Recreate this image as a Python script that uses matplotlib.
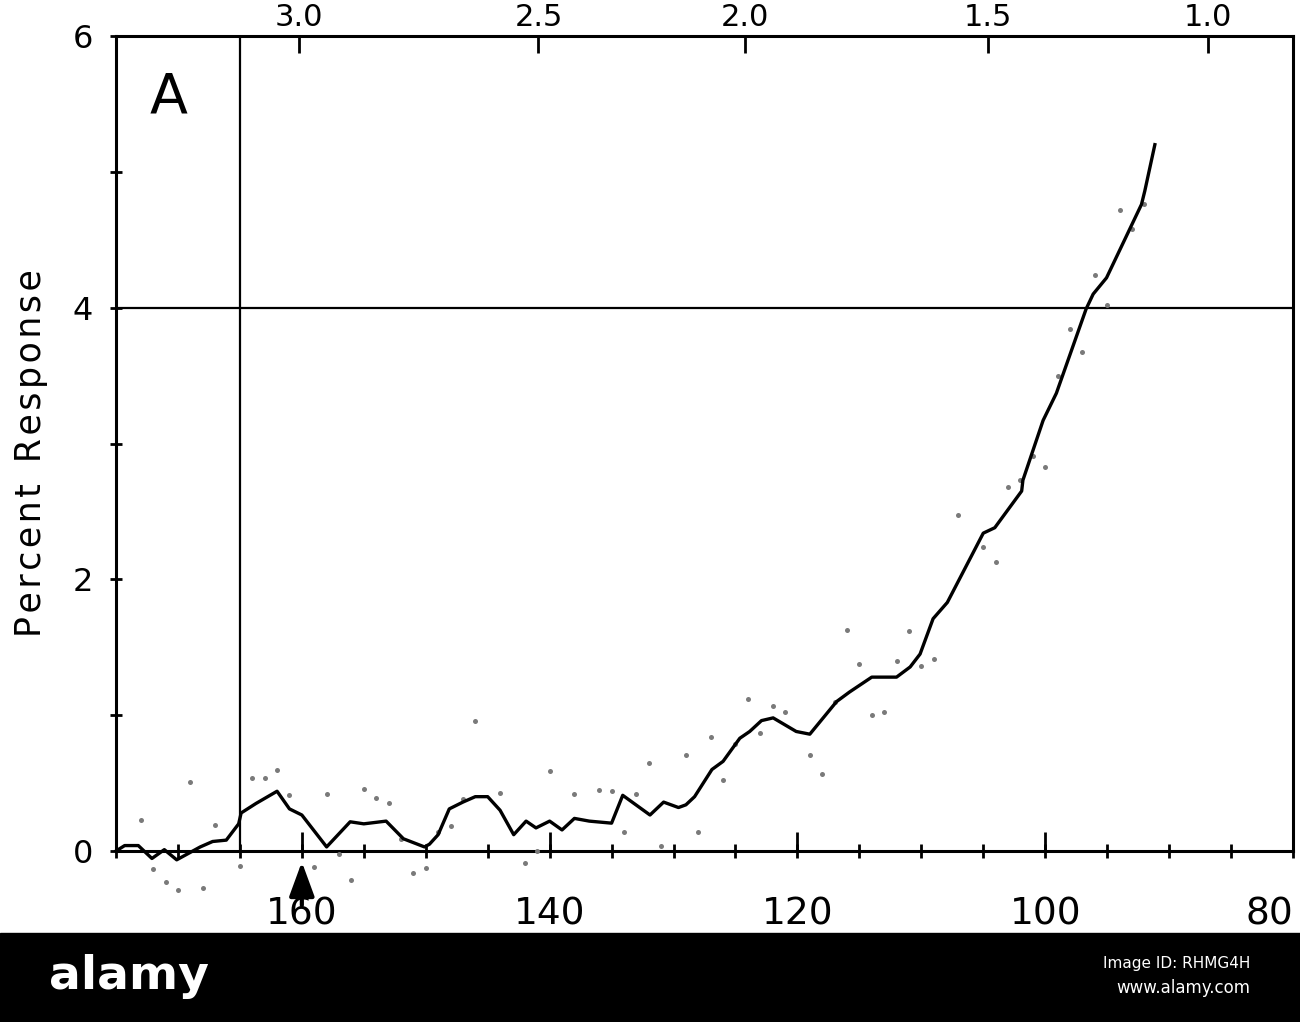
import matplotlib
matplotlib.use("Agg")
import matplotlib.pyplot as plt
from matplotlib.patches import Rectangle

# smoothed response curve (bottom-axis units vs percent response)
line_x = [175.0, 174.3, 173.2, 172.1, 171.1, 170.1, 168.2, 167.2, 166.1, 165.1,
          164.9, 163.7, 162.0, 161.0, 160.0, 158.0, 156.1, 155.0, 153.2, 151.8,
          150.1, 149.7, 149.0, 148.1, 147.0, 146.0, 145.0, 144.0, 142.9, 141.9,
          141.1, 140.0, 139.0, 138.0, 136.8, 135.0, 134.1, 131.9, 130.8, 129.6,
          129.0, 128.3, 126.9, 126.0, 125.05, 124.65, 123.85, 122.9, 121.96, 120.1,
          119.0, 116.84, 115.8, 114.0, 112.0, 110.9, 110.1, 109.05, 107.9, 105.0,
          104.07, 101.9, 101.8, 100.17, 99.1, 96.7, 96.13, 95.05, 93.17, 92.23,
          91.96, 91.15]
line_y = [0.00, 0.04, 0.04, -0.055, 0.01, -0.065, 0.03, 0.07, 0.08, 0.20,
          0.28, 0.35, 0.44, 0.31, 0.265, 0.03, 0.215, 0.20, 0.22, 0.09,
          0.03, 0.05, 0.12, 0.31, 0.36, 0.40, 0.40, 0.30, 0.12, 0.22,
          0.17, 0.22, 0.155, 0.24, 0.22, 0.205, 0.41, 0.265, 0.36, 0.32,
          0.34, 0.40, 0.60, 0.66, 0.78, 0.83, 0.88, 0.96, 0.98, 0.88,
          0.86, 1.10, 1.17, 1.28, 1.28, 1.355, 1.45, 1.71, 1.83, 2.34,
          2.38, 2.65, 2.73, 3.17, 3.37, 3.99, 4.10, 4.22, 4.58, 4.76,
          4.86, 5.20]

# raw measurements (dots)
dot_x = [173, 172, 171, 170, 169, 168, 167, 165, 164, 163, 162, 161, 159, 158,
         157, 156, 155, 154, 153, 152, 151, 150, 149, 148, 147, 146, 144, 142,
         141, 140, 138, 136, 135, 134, 133, 132, 131, 129, 128, 127, 126, 125,
         124, 123, 122, 121, 119, 118, 117, 116, 115, 114, 113, 112, 111, 110,
         109, 107, 105, 104, 103, 102, 101, 100, 99, 98, 97, 96, 95, 94, 93, 92]
dot_y = [0.23, -0.13, -0.23, -0.29, 0.51, -0.27, 0.19, -0.11, 0.54, 0.54, 0.60, 0.41, -0.115, 0.42,
         -0.02, -0.21, 0.46, 0.39, 0.35, 0.09, -0.165, -0.125, 0.14, 0.185, 0.38, 0.96, 0.43, -0.09,
         0.00, 0.59, 0.42, 0.45, 0.44, 0.14, 0.42, 0.65, 0.04, 0.71, 0.14, 0.84, 0.52, 0.79,
         1.12, 0.87, 1.07, 1.02, 0.71, 0.57, 1.10, 1.63, 1.38, 1.00, 1.02, 1.40, 1.62, 1.36,
         1.41, 2.47, 2.24, 2.13, 2.68, 2.73, 2.91, 2.83, 3.50, 3.84, 3.67, 4.24, 4.02, 4.72, 4.58, 4.76]

bottom_ticks = [160, 140, 120, 100, 80]
y_ticks = [0, 2, 4, 6]
top_labels = ["3.0", "2.5", "2.0", "1.5", "1.0"]
top_at = [160.2, 140.9, 124.2, 104.6, 86.9]   # where the top scale marks fall on the bottom scale

plt.rcParams['font.family'] = ['DejaVu Sans']

fig = plt.figure(figsize=(13, 10.22), dpi=100)
ax = fig.add_axes([116 / 1300, 171 / 1022, 1177 / 1300, 815 / 1022])
ax.set_xlim(175, 80)
ax.set_ylim(0, 6)

for s in ax.spines.values():
    s.set_linewidth(2.2)

ax.axvline(165, color='black', lw=1.6)
ax.axhline(4, color='black', lw=1.6)

ax.plot(dot_x, dot_y, 'o', ms=3.6, color='#7a7a7a', mec='none', clip_on=False, zorder=3)
ax.plot(line_x, line_y, color='black', lw=2.4, clip_on=False, zorder=4)

# arrow marking 160 under the axis
ax.annotate('', xy=(160, -0.08), xytext=(160, -0.40),
            arrowprops=dict(arrowstyle='-|>,head_length=1.5,head_width=0.55',
                            mutation_scale=14, color='black', lw=3,
                            shrinkA=0, shrinkB=0),
            annotation_clip=False)

ax.xaxis.remove_overlapping_locs = False
ax.set_xticks(bottom_ticks)
ax.set_xticks(list(range(175, 79, -5)), minor=True)
ax.tick_params(axis='x', which='major', direction='in', length=14, width=2,
               labelsize=27, pad=33)
ax.tick_params(axis='x', which='minor', direction='inout', length=10, width=2)
ax.get_xticklabels()[-1].set_horizontalalignment('right')

ax.yaxis.remove_overlapping_locs = False
ax.set_yticks(y_ticks)
ax.set_yticks([1, 3, 5], minor=True)
ax.tick_params(axis='y', which='both', direction='inout', length=9, width=2,
               labelsize=23, pad=12)

ax_top = ax.twiny()
ax_top.set_xlim(ax.get_xlim())
ax_top.set_xticks(top_at, top_labels)
ax_top.tick_params(axis='x', direction='in', length=12, width=2, labelsize=22, pad=3)
for s in ax_top.spines.values():
    s.set_visible(False)

ax.text(0.045, 0.925, 'A', transform=ax.transAxes, fontsize=40,
        ha='center', va='center')

fig.text(0.024, 0.557, '\u200a'.join('Percent') + '\u2009\u2009\u2009' + '\u200a'.join('Response'),
         rotation=90, fontsize=25, ha='center', va='center')

# dark strip at the bottom of the scan
fig.add_artist(Rectangle((0, 0), 1, 89 / 1022, transform=fig.transFigure,
                         color='black', zorder=10))
fig.text(0.038, 0.045, 'alamy', color='white', fontsize=34, fontweight='bold',
         ha='left', va='center', zorder=11)
fig.text(0.962, 0.057, 'Image ID: RHMG4H', color='white', fontsize=11,
         ha='right', va='center', zorder=11)
fig.text(0.962, 0.033, 'www.alamy.com', color='white', fontsize=12,
         ha='right', va='center', zorder=11)

fig.savefig('out.png', dpi=100, facecolor='white')
